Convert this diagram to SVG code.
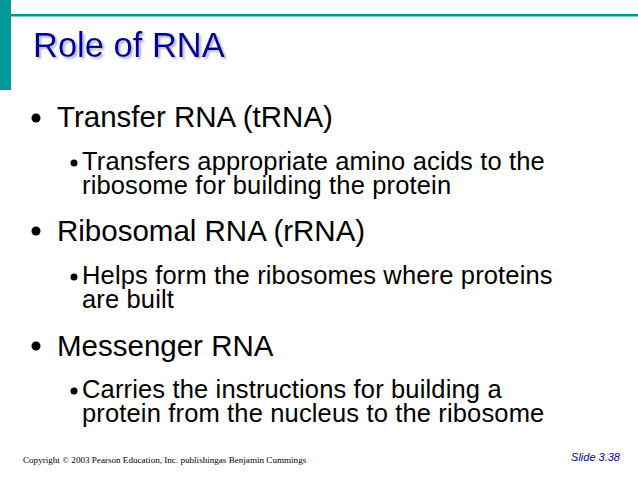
<svg xmlns="http://www.w3.org/2000/svg" width="638" height="478" viewBox="0 0 638 478">
<defs><filter id="sh" x="-5%" y="-20%" width="115%" height="150%"><feDropShadow dx="2" dy="2" stdDeviation="0.8" flood-color="#9090b0" flood-opacity="0.7"/></filter></defs>
<style>
.l1{font-family:"Liberation Sans",Arial,sans-serif;font-size:29.5px;fill:#000}
.l2{font-family:"Liberation Sans",Arial,sans-serif;font-size:25.5px;fill:#000;letter-spacing:0.15px}
</style>
<rect width="638" height="478" fill="#fff"/>
<rect x="0" y="0" width="11" height="90" fill="#009999"/>
<rect x="11" y="14" width="627" height="2.5" fill="#009999"/>
<text x="33" y="57" font-family="Liberation Sans,Arial,sans-serif" font-size="34.5" fill="#000099" filter="url(#sh)">Role of RNA</text>
<g fill="#000">
<circle cx="36" cy="118" r="4.5"/><circle cx="36" cy="231" r="4.5"/><circle cx="36" cy="346" r="4.5"/>
<circle cx="74" cy="163" r="3.5"/><circle cx="74" cy="277" r="3.5"/><circle cx="74" cy="391" r="3.5"/>
</g>
<text class="l1" x="57" y="127">Transfer RNA (tRNA)</text>
<text class="l2" x="82" y="170">Transfers appropriate amino acids to the</text>
<text class="l2" x="82" y="194">ribosome for building the protein</text>
<text class="l1" x="57" y="241">Ribosomal RNA (rRNA)</text>
<text class="l2" x="82" y="284">Helps form the ribosomes where proteins</text>
<text class="l2" x="82" y="308">are built</text>
<text class="l1" x="57" y="356">Messenger RNA</text>
<text class="l2" x="82" y="398">Carries the instructions for building a</text>
<text class="l2" x="82" y="422">protein from the nucleus to the ribosome</text>
<text x="23" y="463" font-family="Liberation Serif,serif" font-size="9.1" fill="#000">Copyright © 2003 Pearson Education, Inc. publishingas Benjamin Cummings</text>
<text x="620" y="461" text-anchor="end" font-family="Liberation Sans,sans-serif" font-style="italic" font-size="11" fill="#000099">Slide 3.38</text>
</svg>
